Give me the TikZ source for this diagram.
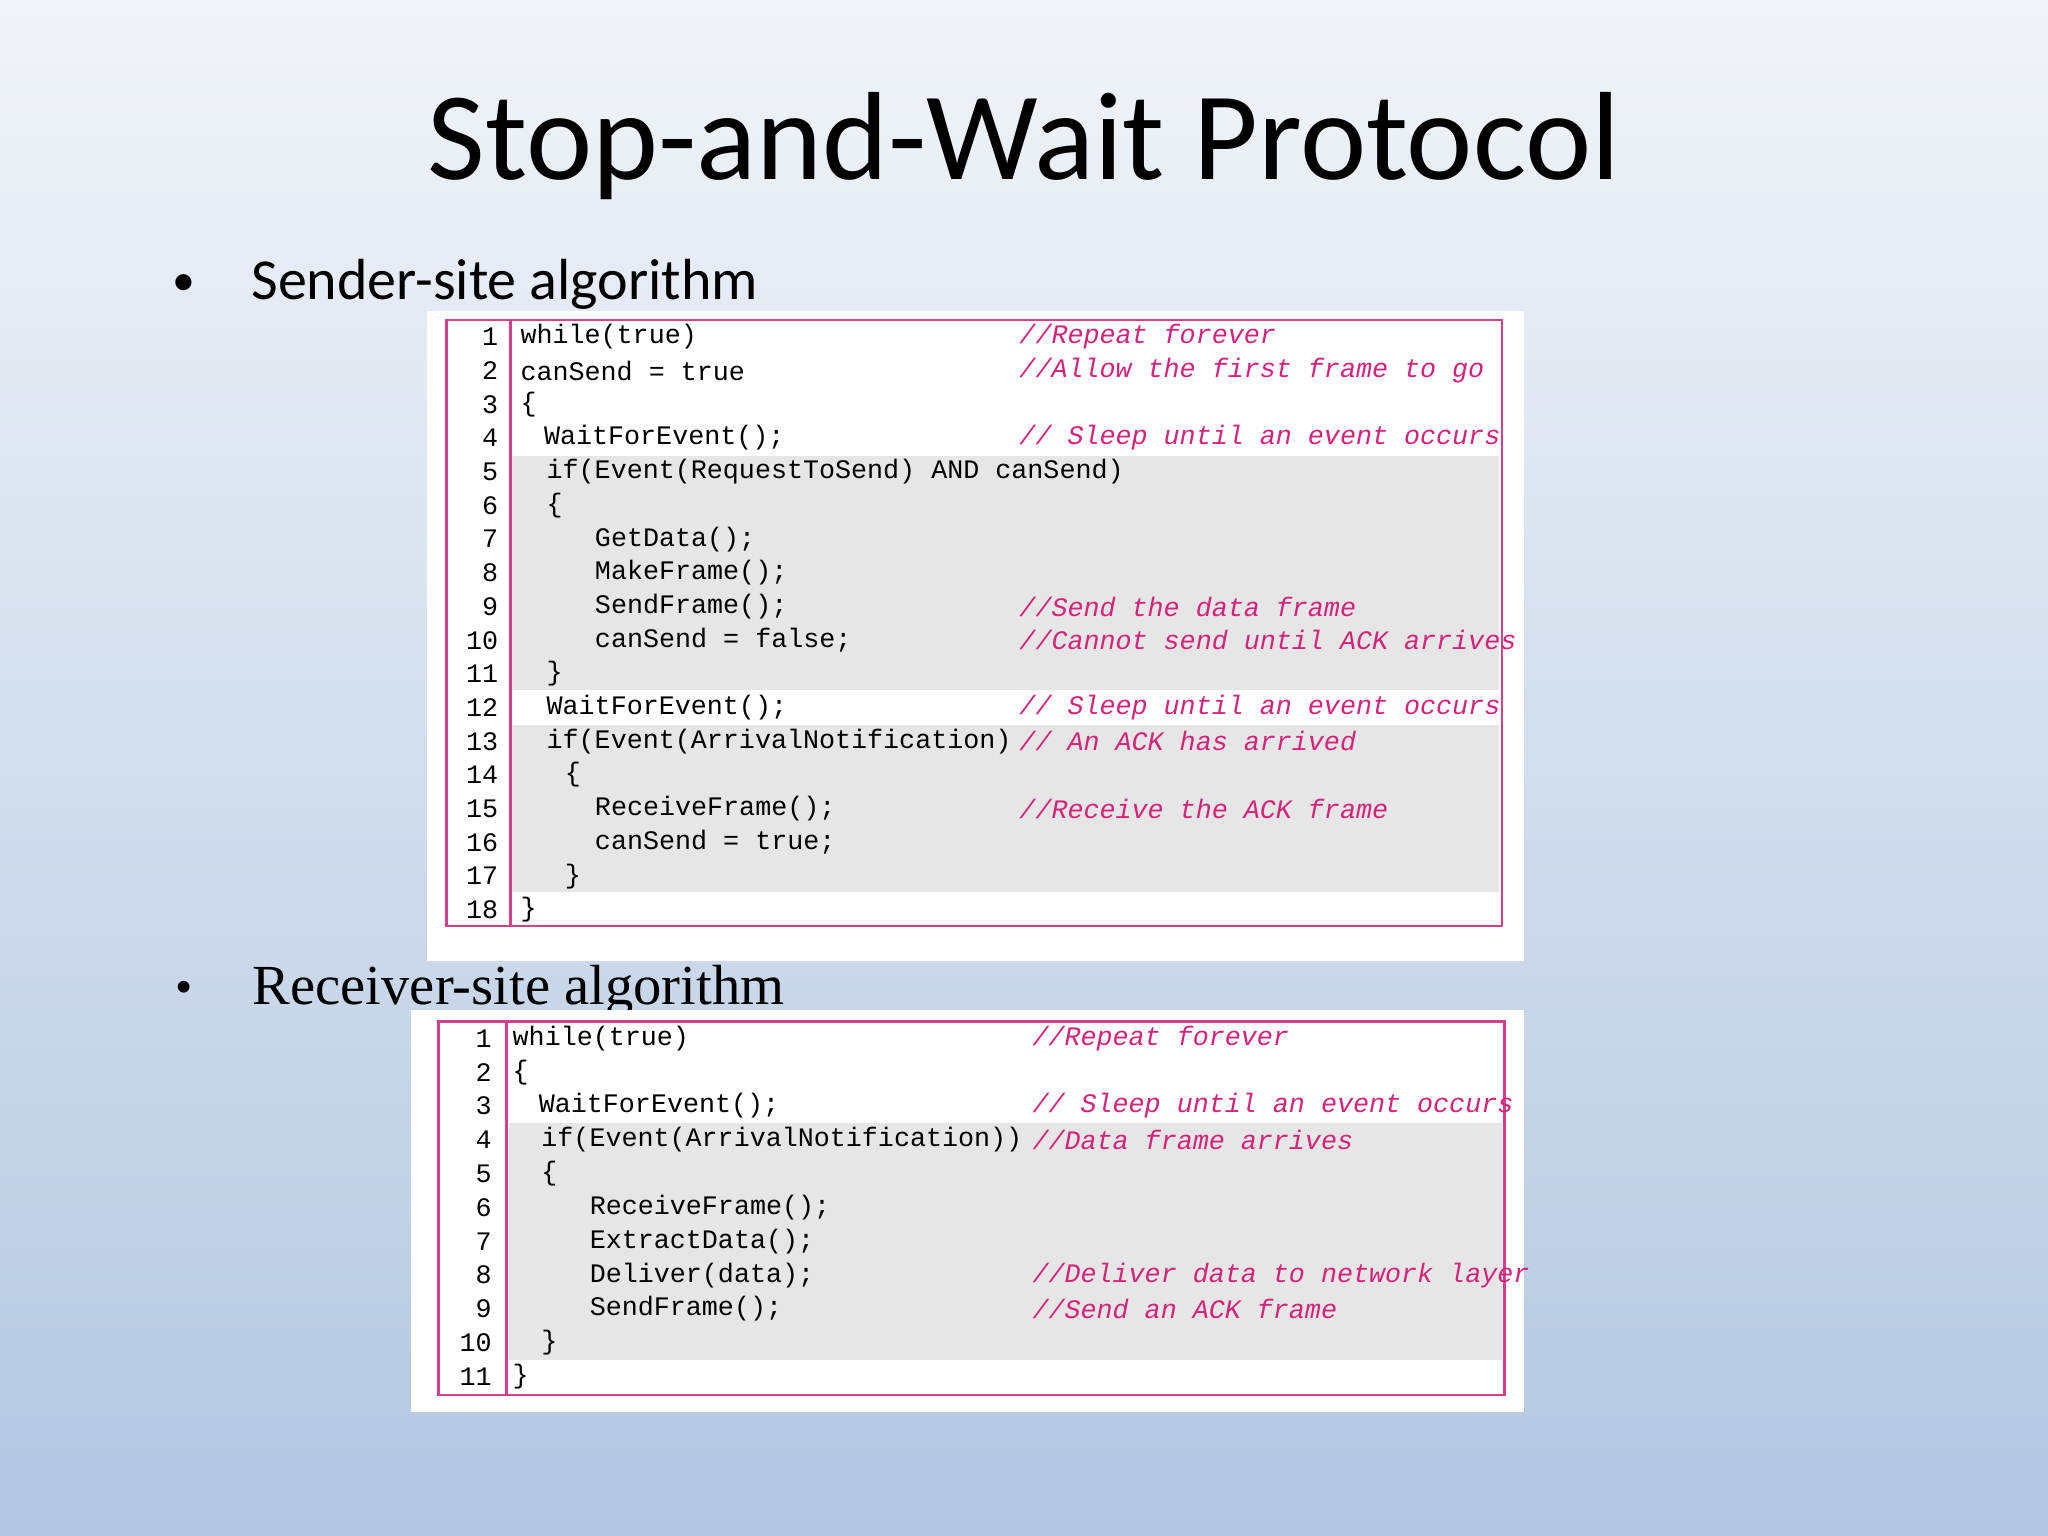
\documentclass[tikz,border=0pt]{standalone}
\usepackage{fontspec}
\setmainfont{Carlito}
\newfontfamily\tms{Liberation Serif}
\newfontfamily\cmono{Liberation Mono}
\definecolor{pinkc}{HTML}{D4237A}
\definecolor{frame}{HTML}{D6408A}
\definecolor{rowgray}{HTML}{E6E6E6}
\definecolor{bgtop}{HTML}{F1F4F9}
\definecolor{bgbot}{HTML}{B3C7E1}
\begin{document}
\begin{tikzpicture}[x=0.013061cm,y=-0.013061cm,
  code/.style={anchor=west,inner sep=0pt,font=\cmono\fontsize{7.6pt}{8pt}\selectfont},
  cmt/.style={code,text=pinkc,font=\cmono\itshape\fontsize{7.6pt}{8pt}\selectfont},
  num/.style={anchor=east,inner sep=0pt,font=\cmono\fontsize{7.6pt}{8pt}\selectfont}]
\shade[top color=bgtop,bottom color=bgbot] (0,0) rectangle (1568,1176);
\useasboundingbox (0,0) rectangle (1568,1176);
\node[font=\fontsize{35.7pt}{38pt}\selectfont] (title) at (784,112) {Stop-and-Wait Protocol};
\node[font=\fontsize{13pt}{14pt}\selectfont] (bu1) at (141,218) {\textbullet};
\node[anchor=west,inner sep=0pt,font=\fontsize{16.5pt}{18pt}\selectfont] (b1) at (192,218) {Sender-site algorithm};
\node[font=\tms\fontsize{14pt}{14pt}\selectfont] (bu2) at (141,760) {\textbullet};
\node[anchor=west,inner sep=0pt,font=\tms\fontsize{16.1pt}{18pt}\selectfont] (b2) at (193,759) {Receiver-site algorithm};
% sender box
\fill[white] (327,238) rectangle (1167,736);
\fill[rowgray] (392,349) rectangle (1148,528);
\fill[rowgray] (392,555) rectangle (1148,683);
\draw[frame,line width=0.8pt] (342,245) rectangle (1150,709);
\draw[frame,line width=0.8pt] (391,245) -- (391,709);
\foreach \i in {1,...,18} {\node[num] (sn\i) at (382,{258+25.8*(\i-1)}) {\i};}
\def\sy#1{{258+25.8*(#1-1)}}
\node[code] (s1) at (398,\sy{1}) {while(true)};
\node[code] (s2) at (398,\sy{2}) {canSend = true};
\node[code] (s3) at (398,\sy{3}) {\{};
\node[code] (s4) at (416,\sy{4}) {WaitForEvent();};
\node[code] (s5) at (418,\sy{5}) {if(Event(RequestToSend) AND canSend)};
\node[code] (s6) at (418,\sy{6}) {\{};
\node[code] (s7) at (455,\sy{7}) {GetData();};
\node[code] (s8) at (455,\sy{8}) {MakeFrame();};
\node[code] (s9) at (455,\sy{9}) {SendFrame();};
\node[code] (s10) at (455,\sy{10}) {canSend = false;};
\node[code] (s11) at (418,\sy{11}) {\}};
\node[code] (s12) at (418,\sy{12}) {WaitForEvent();};
\node[code] (s13) at (418,\sy{13}) {if(Event(ArrivalNotification)};
\node[code] (s14) at (432,\sy{14}) {\{};
\node[code] (s15) at (455,\sy{15}) {ReceiveFrame();};
\node[code] (s16) at (455,\sy{16}) {canSend = true;};
\node[code] (s17) at (432,\sy{17}) {\}};
\node[code] (s18) at (398,\sy{18}) {\}};
\node[cmt] (c1) at (780,\sy{1}) {//Repeat forever};
\node[cmt] (c2) at (780,\sy{2}) {//Allow the first frame to go};
\node[cmt] (c4) at (780,\sy{4}) {// Sleep until an event occurs};
\node[cmt] (c9) at (780,\sy{9}) {//Send the data frame};
\node[cmt] (c10) at (780,\sy{10}) {//Cannot send until ACK arrives};
\node[cmt] (c12) at (780,\sy{12}) {// Sleep until an event occurs};
\node[cmt] (c13) at (780,\sy{13}) {// An ACK has arrived};
\node[cmt] (c15) at (780,\sy{15}) {//Receive the ACK frame};
% receiver box
\fill[white] (315,773) rectangle (1167,1081);
\fill[rowgray] (390,860) rectangle (1150,1041);
\draw[frame,line width=0.8pt] (336,782) rectangle (1152,1068);
\draw[frame,line width=0.8pt] (388,782) -- (388,1068);
\def\ry#1{{795+25.9*(#1-1)}}
\foreach \i in {1,...,11} {\node[num] (rn\i) at (377,{795+25.9*(\i-1)}) {\i};}
\node[code] (r1) at (392,\ry{1}) {while(true)};
\node[code] (r2) at (392,\ry{2}) {\{};
\node[code] (r3) at (412,\ry{3}) {WaitForEvent();};
\node[code] (r4) at (414,\ry{4}) {if(Event(ArrivalNotification))};
\node[code] (r5) at (414,\ry{5}) {\{};
\node[code] (r6) at (451,\ry{6}) {ReceiveFrame();};
\node[code] (r7) at (451,\ry{7}) {ExtractData();};
\node[code] (r8) at (451,\ry{8}) {Deliver(data);};
\node[code] (r9) at (451,\ry{9}) {SendFrame();};
\node[code] (r10) at (414,\ry{10}) {\}};
\node[code] (r11) at (392,\ry{11}) {\}};
\node[cmt] (d1) at (790,\ry{1}) {//Repeat forever};
\node[cmt] (d3) at (790,\ry{3}) {// Sleep until an event occurs};
\node[cmt] (d4) at (790,\ry{4}) {//Data frame arrives};
\node[cmt] (d8) at (790,\ry{8}) {//Deliver data to network layer};
\node[cmt] (d9) at (790,\ry{9}) {//Send an ACK frame};
\end{tikzpicture}
\end{document}
